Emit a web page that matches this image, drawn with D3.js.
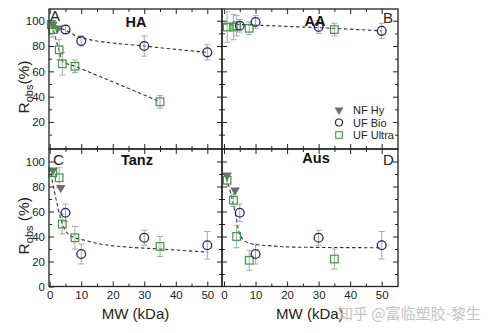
<!DOCTYPE html>
<html><head><meta charset="utf-8">
<script src="https://cdn.jsdelivr.net/npm/d3@7"></script>
<style>
html,body{margin:0;padding:0;background:#fff;}
svg{display:block;font-family:"Liberation Sans",Arial,sans-serif;}
</style></head>
<body><svg id="c" width="489" height="333"></svg>
<script>
// ---- data: [MW (kDa), Robs (%), error] ----
const xTicks = [0, 10, 20, 30, 40, 50];
const xMinor = [5, 15, 25, 35, 45];
const yTicksTop = [20, 40, 60, 80, 100];
const yTicksBottom = [0, 20, 40, 60, 80, 100];
const yMinor = [10, 30, 50, 70, 90];
const seriesNames = ["NF Hy", "UF Bio", "UF Ultra"];

// Panel A - HA
const haHy = [[1, 97], [2.5, 94]];
const haBio = [[5, 93, 3], [10, 84, 4], [30, 80, 8], [50, 75, 6]];
const haUltra = [[0.5, 97, 3], [1, 93, 6], [3, 77, 8], [4, 66, 9], [8, 64, 5], [35, 36, 5]];
const haFitBio = [[0.3, 98], [2.5, 95], [5, 92.5], [10, 86.5], [30, 80], [50, 75]];
const haFitUltra = [[0.8, 97], [3, 76], [4, 68], [8, 64], [35, 36]];

// Panel B - AA
const aaBio = [[5, 96, 5], [10, 99, 5], [30, 95, 5], [50, 92, 6]];
const aaUltra = [[1, 95, 12], [3, 95, 10], [4, 96, 8], [8, 94, 5], [35, 93, 5]];
const aaFit = [[0, 97.5], [10, 96.5], [30, 94.5], [50, 92]];

// Panel C - Tanz
const tanzHy = [[1, 93], [3.5, 79]];
const tanzBio = [[5, 59, 7], [10, 26, 8], [30, 39, 6], [50, 33, 11]];
const tanzUltra = [[1, 91, 3], [3, 87, 8], [4, 50, 8], [8, 39, 9], [35, 32, 8]];
const tanzFit = [[0, 95], [2, 70], [3.5, 54], [5.5, 43], [8, 39], [11, 37], [16, 34], [25, 31.5], [35, 30], [50, 27.5]];

// Panel D - Aus
const ausHy = [[1, 89], [3.5, 77]];
const ausBio = [[5, 59, 7], [10, 26, 8], [30, 39, 6], [50, 33, 11]];
const ausUltra = [[1, 85, 5], [3, 69, 5], [4, 40, 9], [8, 21, 8], [35, 22, 8]];
const ausFit = [[0, 91], [2, 76], [3.8, 56], [4.8, 43], [6.4, 37], [9, 34], [15, 32.5], [22, 31.5], [50, 31]];

// ---- layout ----
const svg = d3.select("#c");
const colX = [[49, 222, 49.7, 207.3], [222, 398, 224, 381.7]];   // frame left/right, px of 0 and 50
const rowY = [[9, 149, 147.3, 20.7], [149, 286.5, 286.5, 161.5]]; // frame top/bottom, px of 0 and 100

const C_BIO = "#22227a", C_ULTRA = "#3e9a3e", C_HY = "#6e6e6e", C_ERR = "#a8a8a8";

const panels = [
  {col: 0, row: 0, letter: "A", title: "HA", hy: haHy, bio: haBio, ultra: haUltra, fits: [haFitBio, haFitUltra], yTicks: yTicksTop},
  {col: 1, row: 0, letter: "B", title: "AA", hy: [], bio: aaBio, ultra: aaUltra, fits: [aaFit], yTicks: null},
  {col: 0, row: 1, letter: "C", title: "Tanz", hy: tanzHy, bio: tanzBio, ultra: tanzUltra, fits: [tanzFit], yTicks: yTicksBottom},
  {col: 1, row: 1, letter: "D", title: "Aus", hy: ausHy, bio: ausBio, ultra: ausUltra, fits: [ausFit], yTicks: null}
];
const letterPos = [[50, 21], [383, 23], [53, 165], [383, 165]];
const titlePos = [[136, 27], [315, 26], [137, 165], [316, 163]];

function styleAxis(g) {
  g.select(".domain").remove();
  g.selectAll("line").attr("stroke", "#222").attr("stroke-width", 1);
  g.selectAll("text").attr("fill", "#222").attr("font-size", 11.5).attr("font-family", "Liberation Sans, Arial, sans-serif");
}

panels.forEach((p, pi) => {
  const [fx0, fx1, x0, x50] = colX[p.col];
  const [fy0, fy1, y0, y100] = rowY[p.row];
  const x = d3.scaleLinear().domain([0, 50]).range([x0, x50]);
  const y = d3.scaleLinear().domain([0, 100]).range([y0, y100]);
  const g = svg.append("g");

  // ticks: left
  const gl = g.append("g").attr("transform", `translate(${fx0},0)`)
    .call(d3.axisLeft(y).tickValues(p.yTicks || yTicksBottom).tickSizeInner(-5).tickSizeOuter(0).tickPadding(4)
      .tickFormat(p.yTicks ? d3.format("d") : () => ""));
  styleAxis(gl);
  if (!p.yTicks || p.row === 0) gl.selectAll(".tick").filter(d => d === 0).remove();
  styleAxis(g.append("g").attr("transform", `translate(${fx0},0)`)
    .call(d3.axisLeft(y).tickValues(yMinor).tickSizeInner(-3).tickSizeOuter(0).tickFormat(() => "")));
  // ticks: right
  styleAxis(g.append("g").attr("transform", `translate(${fx1},0)`)
    .call(d3.axisRight(y).tickValues([20, 40, 60, 80, 100]).tickSizeInner(-5).tickSizeOuter(0).tickFormat(() => "")));
  styleAxis(g.append("g").attr("transform", `translate(${fx1},0)`)
    .call(d3.axisRight(y).tickValues(yMinor).tickSizeInner(-3).tickSizeOuter(0).tickFormat(() => "")));
  // ticks: bottom
  const gb = g.append("g").attr("transform", `translate(0,${fy1})`)
    .call(d3.axisBottom(x).tickValues(xTicks).tickSizeInner(-5).tickSizeOuter(0).tickPadding(4)
      .tickFormat(p.row === 1 ? d3.format("d") : () => ""));
  styleAxis(gb);
  styleAxis(g.append("g").attr("transform", `translate(0,${fy1})`)
    .call(d3.axisBottom(x).tickValues(xMinor).tickSizeInner(-3).tickSizeOuter(0).tickFormat(() => "")));
  // ticks: top
  styleAxis(g.append("g").attr("transform", `translate(0,${fy0})`)
    .call(d3.axisTop(x).tickValues(xTicks).tickSizeInner(-5).tickSizeOuter(0).tickFormat(() => "")));
  styleAxis(g.append("g").attr("transform", `translate(0,${fy0})`)
    .call(d3.axisTop(x).tickValues(xMinor).tickSizeInner(-3).tickSizeOuter(0).tickFormat(() => "")));

  // fit lines
  const line = d3.line().x(d => x(d[0])).y(d => y(d[1])).curve(d3.curveMonotoneX);
  p.fits.forEach(f => {
    g.append("path").attr("d", line(f)).attr("fill", "none").attr("stroke", "#333")
      .attr("stroke-width", 1.1).attr("stroke-dasharray", "3.5,2.5");
  });

  // error bars
  const errs = p.bio.concat(p.ultra);
  errs.forEach(d => {
    const cx = x(d[0]), ya = y(d[1] + d[2]), yb = y(d[1] - d[2]);
    g.append("line").attr("x1", cx).attr("x2", cx).attr("y1", ya).attr("y2", yb).attr("stroke", C_ERR).attr("stroke-width", 1);
    [ya, yb].forEach(yy => g.append("line").attr("x1", cx - 3).attr("x2", cx + 3).attr("y1", yy).attr("y2", yy).attr("stroke", C_ERR).attr("stroke-width", 1));
  });

  // markers
  p.hy.forEach(d => {
    g.append("path").attr("d", d3.symbol(d3.symbolTriangle, 40)()).attr("transform", `translate(${x(d[0])},${y(d[1])}) rotate(180)`)
      .attr("fill", C_HY);
  });
  p.ultra.forEach(d => {
    g.append("rect").attr("x", x(d[0]) - 3.8).attr("y", y(d[1]) - 3.8).attr("width", 7.6).attr("height", 7.6)
      .attr("fill", "none").attr("stroke", C_ULTRA).attr("stroke-width", 1.2);
  });
  p.bio.forEach(d => {
    g.append("circle").attr("cx", x(d[0])).attr("cy", y(d[1])).attr("r", 4.4)
      .attr("fill", "none").attr("stroke", C_BIO).attr("stroke-width", 1.3);
  });

  // frame
  g.append("rect").attr("x", fx0).attr("y", fy0).attr("width", fx1 - fx0).attr("height", fy1 - fy0)
    .attr("fill", "none").attr("stroke", "#222").attr("stroke-width", 1.3);

  // letters and titles
  g.append("text").attr("x", letterPos[pi][0]).attr("y", letterPos[pi][1])
    .attr("font-size", 15).attr("fill", "#222").text(p.letter);
  g.append("text").attr("x", titlePos[pi][0]).attr("y", titlePos[pi][1])
    .attr("text-anchor", "middle").attr("font-size", 14.5).attr("font-weight", "bold").attr("fill", "#111").text(p.title);

  // x label
  if (p.row === 1) {
    g.append("text").attr("x", (x0 + x50) / 2 + 7).attr("y", 319).attr("text-anchor", "middle")
      .attr("font-size", 15).attr("fill", "#222").text("MW (kDa)");
  }
  // y label
  if (p.col === 0) {
    const t = g.append("text").attr("transform", `translate(29,${(fy0 + fy1) / 2 + 8}) rotate(-90)`)
      .attr("text-anchor", "middle").attr("font-size", 15.5).attr("fill", "#222");
    t.append("tspan").text("R");
    t.append("tspan").attr("font-size", 11).attr("dy", 4).text("obs");
    t.append("tspan").attr("dy", -4).text(p.row === 0 ? "(%)" : " (%)");
  }
});

// legend in panel B
const legItems = [
  {name: seriesNames[0], type: "tri", color: C_HY},
  {name: seriesNames[1], type: "circ", color: C_BIO},
  {name: seriesNames[2], type: "sq", color: C_ULTRA}
];
const leg = svg.append("g").attr("transform", "translate(339,110)");
legItems.forEach((it, i) => {
  const yy = i * 12.5;
  if (it.type === "tri") leg.append("path").attr("d", d3.symbol(d3.symbolTriangle, 34)()).attr("transform", `translate(0,${yy}) rotate(180)`).attr("fill", it.color);
  if (it.type === "circ") leg.append("circle").attr("cx", 0).attr("cy", yy).attr("r", 3.5).attr("fill", "none").attr("stroke", it.color).attr("stroke-width", 1.2);
  if (it.type === "sq") leg.append("rect").attr("x", -3.3).attr("y", yy - 3.3).attr("width", 6.6).attr("height", 6.6).attr("fill", "none").attr("stroke", it.color).attr("stroke-width", 1.1);
  leg.append("text").attr("x", 14).attr("y", yy + 4).attr("font-size", 11).attr("fill", "#222").text(it.name);
});

// watermark
svg.append("text").attr("x", 338).attr("y", 319).attr("font-size", 15).attr("fill", "#c4c4c4")
  .attr("font-family", "Noto Sans CJK SC, sans-serif").text("知乎 @富临塑胶-黎生");
</script></body></html>
